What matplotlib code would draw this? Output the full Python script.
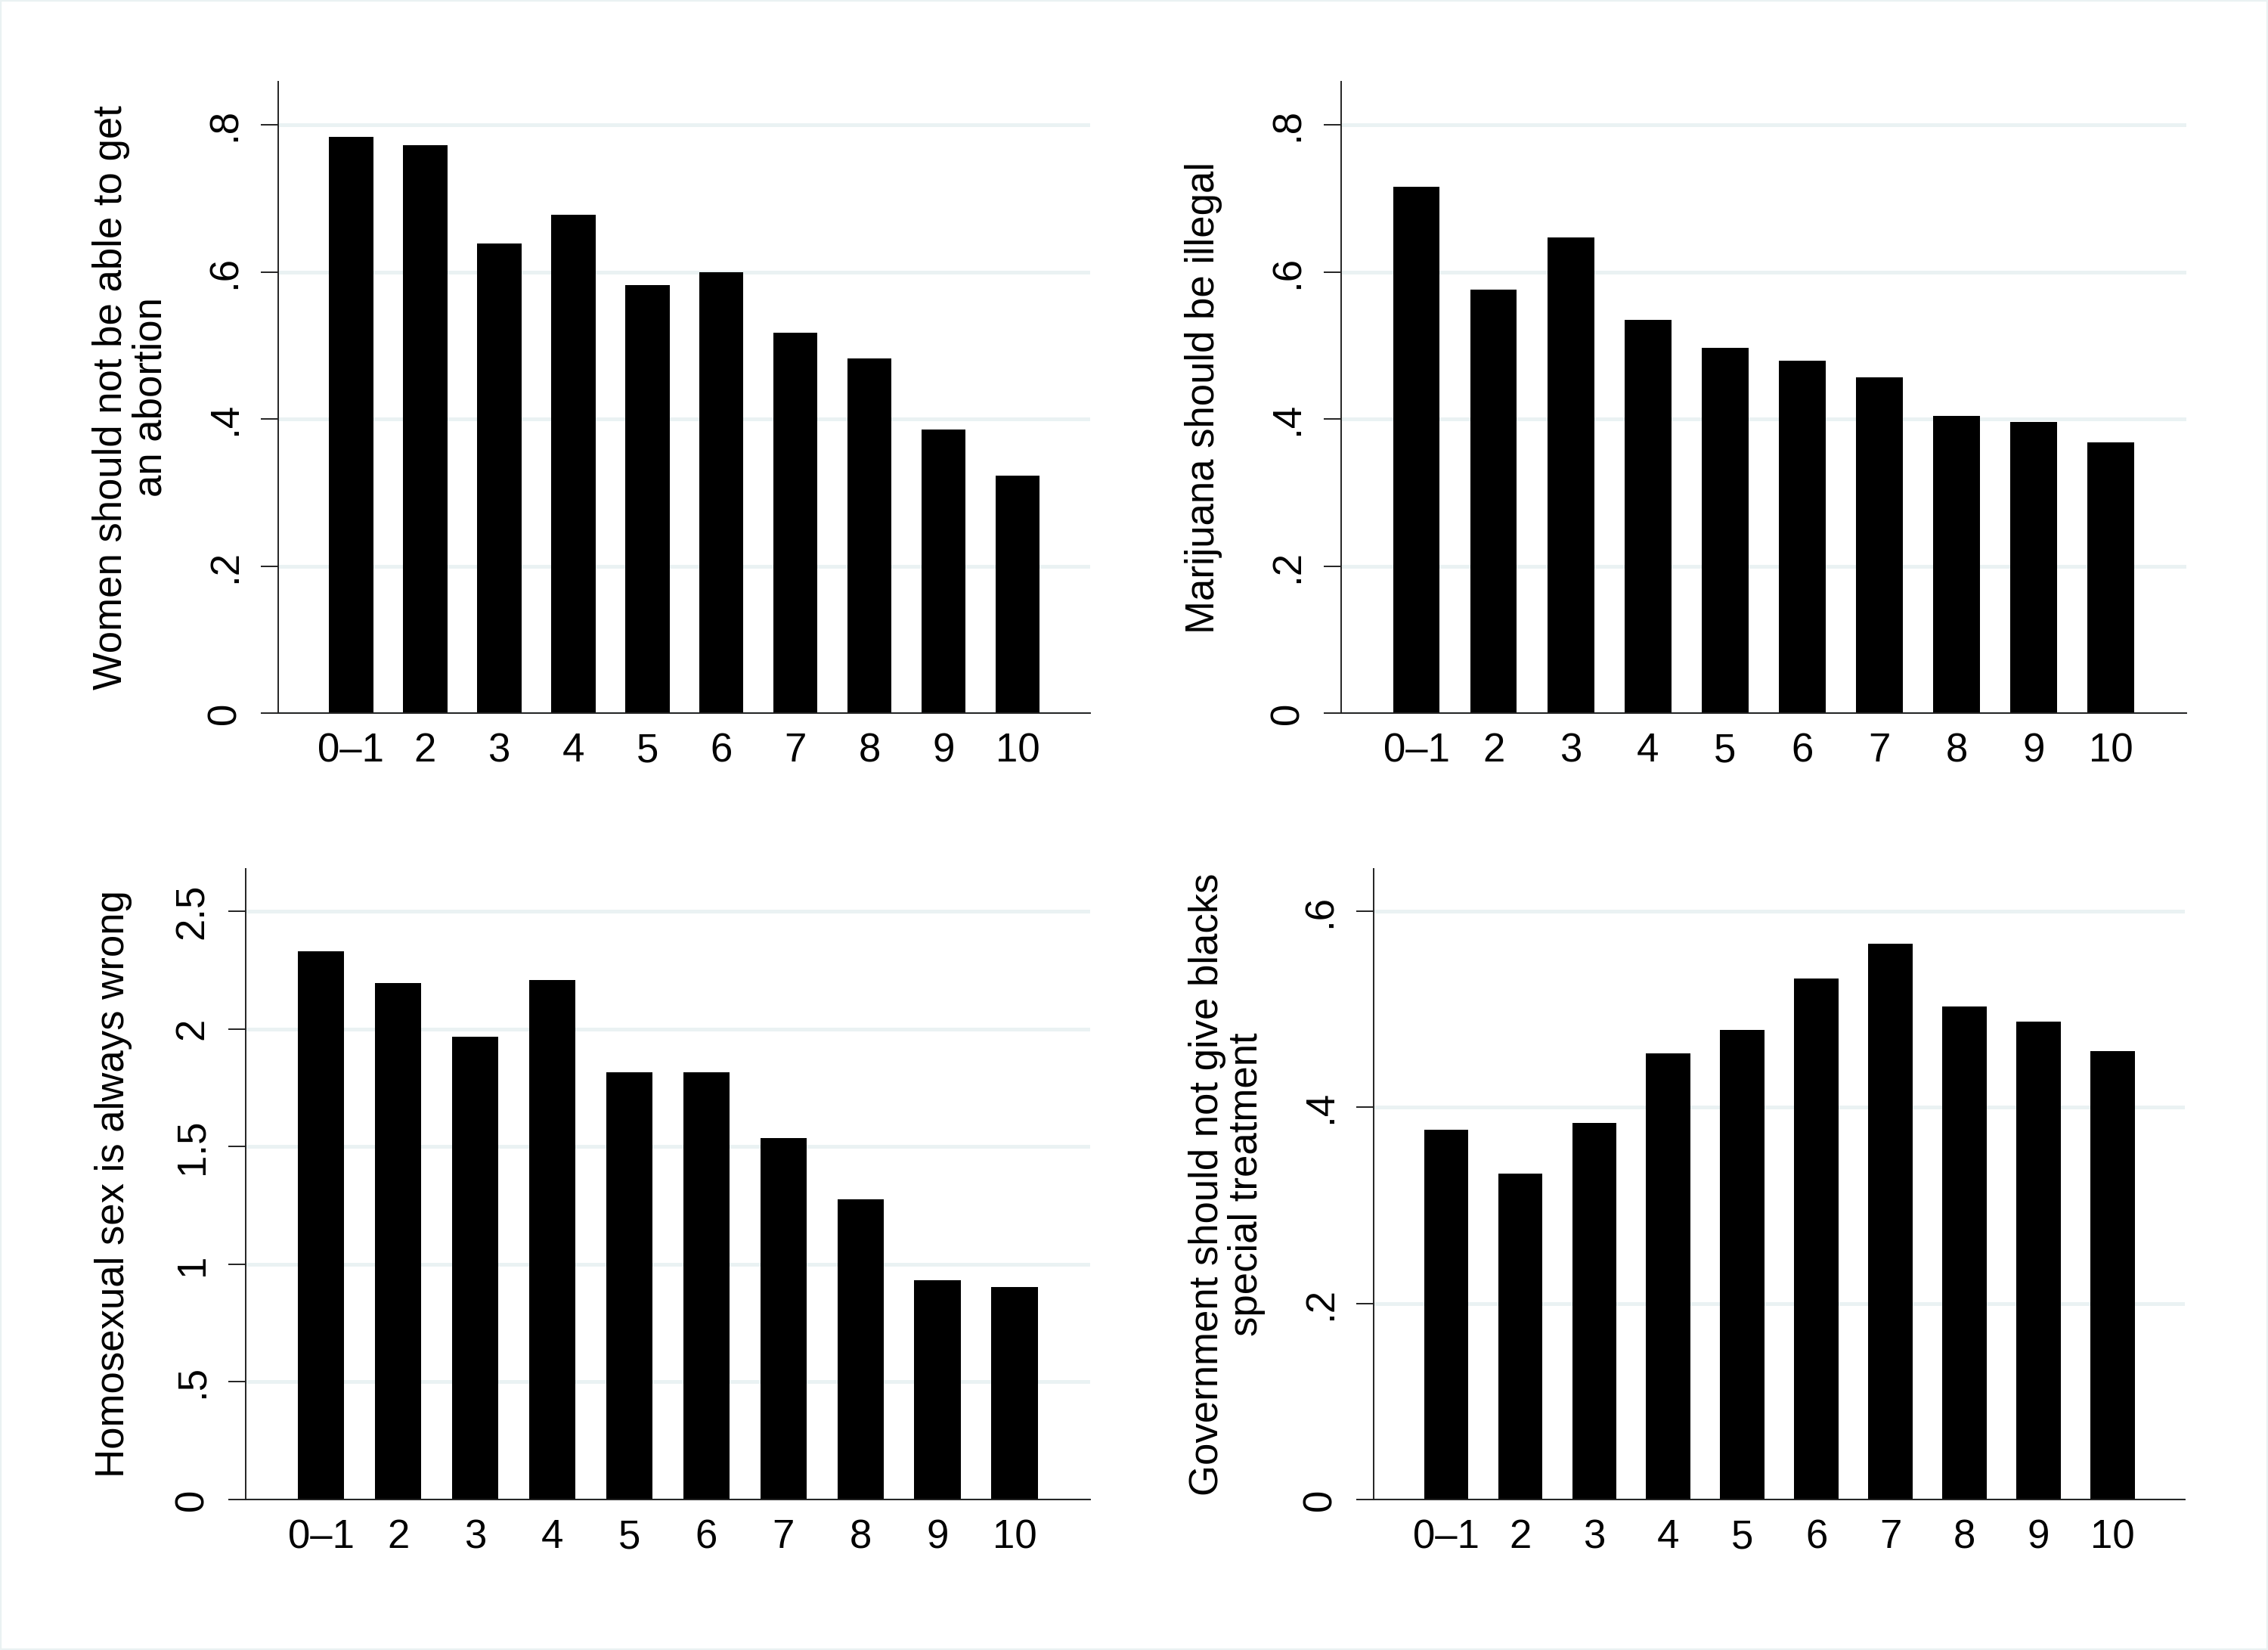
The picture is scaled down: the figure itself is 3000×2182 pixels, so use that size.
import matplotlib
matplotlib.use("Agg")
import matplotlib.pyplot as plt
from matplotlib.patches import Rectangle

plt.rcParams['font.family'] = ['Liberation Sans', 'DejaVu Sans']

# categories on the x axis (same for all four panels)
categories = ["0\u20131", "2", "3", "4", "5", "6", "7", "8", "9", "10"]

# panel data
abortion = [0.784, 0.773, 0.639, 0.678, 0.582, 0.600, 0.517, 0.482, 0.386, 0.323]
marijuana = [0.716, 0.576, 0.647, 0.535, 0.497, 0.479, 0.457, 0.404, 0.396, 0.368]
homosexual = [2.330, 2.196, 1.966, 2.207, 1.816, 1.816, 1.537, 1.276, 0.932, 0.903]
blacks = [0.377, 0.332, 0.384, 0.455, 0.479, 0.531, 0.567, 0.503, 0.487, 0.457]

# y ticks and labels
ticks_08 = [0, 0.2, 0.4, 0.6, 0.8]
labels_08 = ["0", ".2", ".4", ".6", ".8"]
ticks_25 = [0, 0.5, 1, 1.5, 2, 2.5]
labels_25 = ["0", ".5", "1", "1.5", "2", "2.5"]
ticks_06 = [0, 0.2, 0.4, 0.6]
labels_06 = ["0", ".2", ".4", ".6"]

titles = ["Women should not be able to get\nan abortion",
          "Marijuana should be illegal",
          "Homosexual sex is always wrong",
          "Government should not give blacks\nspecial treatment"]

GRID = '#EAF2F3'
FS = 19

fig = plt.figure(figsize=(15, 10.91), dpi=200)
fig.patches.append(Rectangle((0, 0), 1, 1, transform=fig.transFigure,
                             fill=False, edgecolor=GRID, lw=1.6))

# [left, bottom, width, height], ymax, values, ticks, labels, title, ylabel x
panels = [
    ([0.1227, 0.5678, 0.3580, 0.3827], 0.859, abortion, ticks_08, labels_08, titles[0], -0.134),
    ([0.5913, 0.5678, 0.3727, 0.3827], 0.859, marijuana, ticks_08, labels_08, titles[1], -0.140),
    ([0.1083, 0.0912, 0.3723, 0.3822], 2.68, homosexual, ticks_25, labels_25, titles[2], -0.134),
    ([0.6057, 0.0912, 0.3577, 0.3822], 0.643, blacks, ticks_06, labels_06, titles[3], -0.133),
]

for rect, ymax, vals, ticks, labs, title, lx in panels:
    ax = fig.add_axes(rect)
    x = list(range(len(categories)))
    ax.bar(x, vals, width=0.6, color='black', edgecolor='none', zorder=3)
    ax.set_xlim(-0.98, 9.98)
    ax.set_ylim(0, ymax)
    ax.set_xticks(x)
    ax.set_xticklabels(categories, fontsize=FS)
    ax.set_yticks(ticks)
    ax.set_yticklabels(labs, fontsize=FS, rotation=90, va='center', ha='right')
    ax.tick_params(axis='x', length=0, pad=9)
    ax.tick_params(axis='y', length=8.3, width=0.7, pad=8, color='#222222')
    ax.grid(axis='y', color=GRID, lw=1.8)
    ax.set_axisbelow(True)
    for s in ['top', 'right']:
        ax.spines[s].set_visible(False)
    for s in ['left', 'bottom']:
        ax.spines[s].set_linewidth(0.7)
        ax.spines[s].set_color('#222222')
        ax.spines[s].set_zorder(4)
    ax.set_ylabel(title, fontsize=FS, linespacing=1.05)
    ax.yaxis.set_label_coords(lx, 0.5)

fig.savefig("out.png", dpi=200)
